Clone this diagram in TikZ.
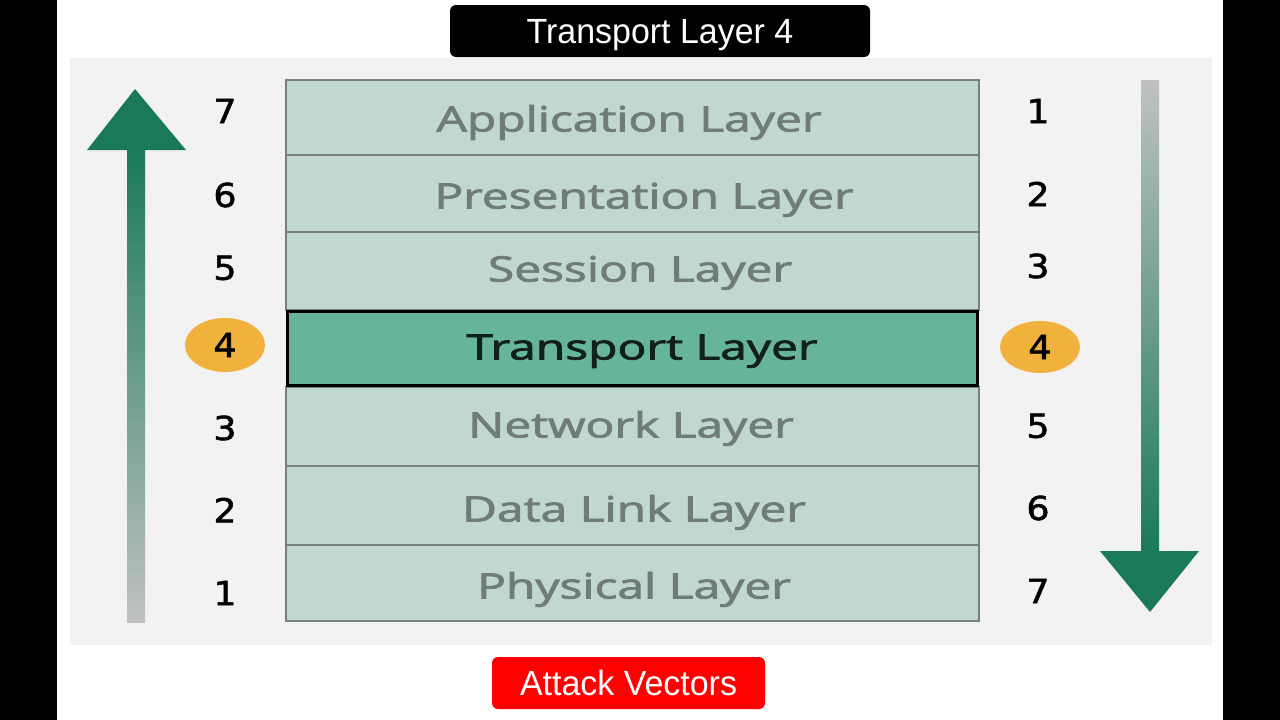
\documentclass[tikz,border=0pt]{standalone}
\usepackage{fontspec}
\usepackage{graphicx}
\setmainfont{Liberation Sans}
\newfontfamily\layerfont{Open Sans}[FakeBold=2]
\newfontfamily\numfont{DejaVu Sans}[FakeBold=1.5]
\usetikzlibrary{shapes.geometric}
\definecolor{panelbg}{RGB}{242,242,242}
\definecolor{rowfill}{RGB}{192,216,208}
\definecolor{rowline}{RGB}{120,128,125}
\definecolor{tpfill}{RGB}{102,181,154}
\definecolor{labelgrey}{RGB}{112,124,120}
\definecolor{tptext}{RGB}{18,32,26}
\definecolor{agreen}{RGB}{26,122,88}
\definecolor{agrey}{RGB}{192,194,192}
\definecolor{badge}{RGB}{240,178,60}
\definecolor{redbox}{RGB}{255,0,0}
\tikzset{
  rowbox/.style={draw=rowline, line width=2pt, fill=rowfill, minimum width=693pt, inner sep=0pt, outer sep=0pt},
  tpbox/.style={draw=black, line width=3.2pt, fill=tpfill, minimum width=690pt, minimum height=74pt, inner sep=0pt},
  layertext/.style={font=\layerfont\fontsize{35}{40}\selectfont, text=labelgrey, anchor=base, inner sep=0pt},
  numtext/.style={font=\numfont\fontsize{33}{36}\selectfont, text=black, inner sep=0pt},
  badgeshape/.style={ellipse, fill=badge, inner sep=0pt},
  banner/.style={rounded corners=6pt, text=white, font=\fontsize{35}{40}\selectfont, text height=25pt, text depth=0pt, inner sep=0pt},
}
\begin{document}
\begin{tikzpicture}[x=1pt,y=-1pt]
\useasboundingbox (0,0) rectangle (1280,720);
\fill[white] (0,0) rectangle (1280,720);
\fill[black] (0,0) rectangle (57,720);
\fill[black] (1223,0) rectangle (1280,720);
\fill[panelbg] (70,58) rectangle (1212,645);

% title and footer
\node[banner, fill=black, minimum width=420pt, minimum height=52pt] (title) at (660,31) {\scalebox{0.97}[1]{Transport Layer 4}};
\node[banner, fill=redbox, minimum width=273pt, minimum height=52pt] (attack) at (628.5,683) {\scalebox{0.97}[1]{Attack Vectors}};

% rows
\node[rowbox, minimum height=75pt] (r7) at (632.5,117.5) {};
\node[rowbox, minimum height=77pt] (r6) at (632.5,193.5) {};
\node[rowbox, minimum height=78pt] (r5) at (632.5,271) {};
\node[rowbox, minimum height=79pt] (r3) at (632.5,426.5) {};
\node[rowbox, minimum height=79pt] (r2) at (632.5,505.5) {};
\node[rowbox, minimum height=76pt] (r1) at (632.5,583) {};
\node[tpbox] (r4) at (632.5,348.5) {};

\node[layertext] (t7) at (629,131.5) {\scalebox{1.37}[1]{Application Layer}};
\node[layertext] (t6) at (644,208.5) {\scalebox{1.37}[1]{Presentation Layer}};
\node[layertext] (t5) at (640,281.5) {\scalebox{1.37}[1]{Session Layer}};
\node[layertext, text=tptext] (t4) at (642,359.5) {\scalebox{1.37}[1]{Transport Layer}};
\node[layertext] (t3) at (631,437.5) {\scalebox{1.37}[1]{Network Layer}};
\node[layertext] (t2) at (634,521.5) {\scalebox{1.37}[1]{Data Link Layer}};
\node[layertext] (t1) at (634,598.5) {\scalebox{1.37}[1]{Physical Layer}};

% badges
\node[badgeshape, minimum width=80pt, minimum height=54pt] (lb) at (225,345) {};
\node[badgeshape, minimum width=80pt, minimum height=52pt] (rb) at (1040,347) {};

% left numbers
\node[numtext] (l7) at (225,111) {\scalebox{1.1}[1]{7}};
\node[numtext] (l6) at (225,195) {\scalebox{1.1}[1]{6}};
\node[numtext] (l5) at (225,268) {\scalebox{1.1}[1]{5}};
\node[numtext] (l4) at (lb.center) {\scalebox{1.1}[1]{4}};
\node[numtext] (l3) at (225,428) {\scalebox{1.1}[1]{3}};
\node[numtext] (l2) at (225,510) {\scalebox{1.1}[1]{2}};
\node[numtext] (l1) at (225,593) {\scalebox{1.1}[1]{1}};
% right numbers
\node[numtext] (n1) at (1038,111) {\scalebox{1.1}[1]{1}};
\node[numtext] (n2) at (1038,194) {\scalebox{1.1}[1]{2}};
\node[numtext] (n3) at (1038,266) {\scalebox{1.1}[1]{3}};
\node[numtext] (n4) at (rb.center) {\scalebox{1.1}[1]{4}};
\node[numtext] (n5) at (1038,426) {\scalebox{1.1}[1]{5}};
\node[numtext] (n6) at (1038,508) {\scalebox{1.1}[1]{6}};
\node[numtext] (n7) at (1038,591) {\scalebox{1.1}[1]{7}};

% left arrow (up)
\shade[top color=agreen, bottom color=agrey] (127,149) rectangle (145,622);
\fill[agreen] (87,150) -- (135,89) -- (186,150) -- cycle;
% right arrow (down)
\shade[top color=agrey, bottom color=agreen] (1141,80) rectangle (1159,552);
\fill[agreen] (1100,551) -- (1150,612) -- (1199,551) -- cycle;
\end{tikzpicture}
\end{document}
